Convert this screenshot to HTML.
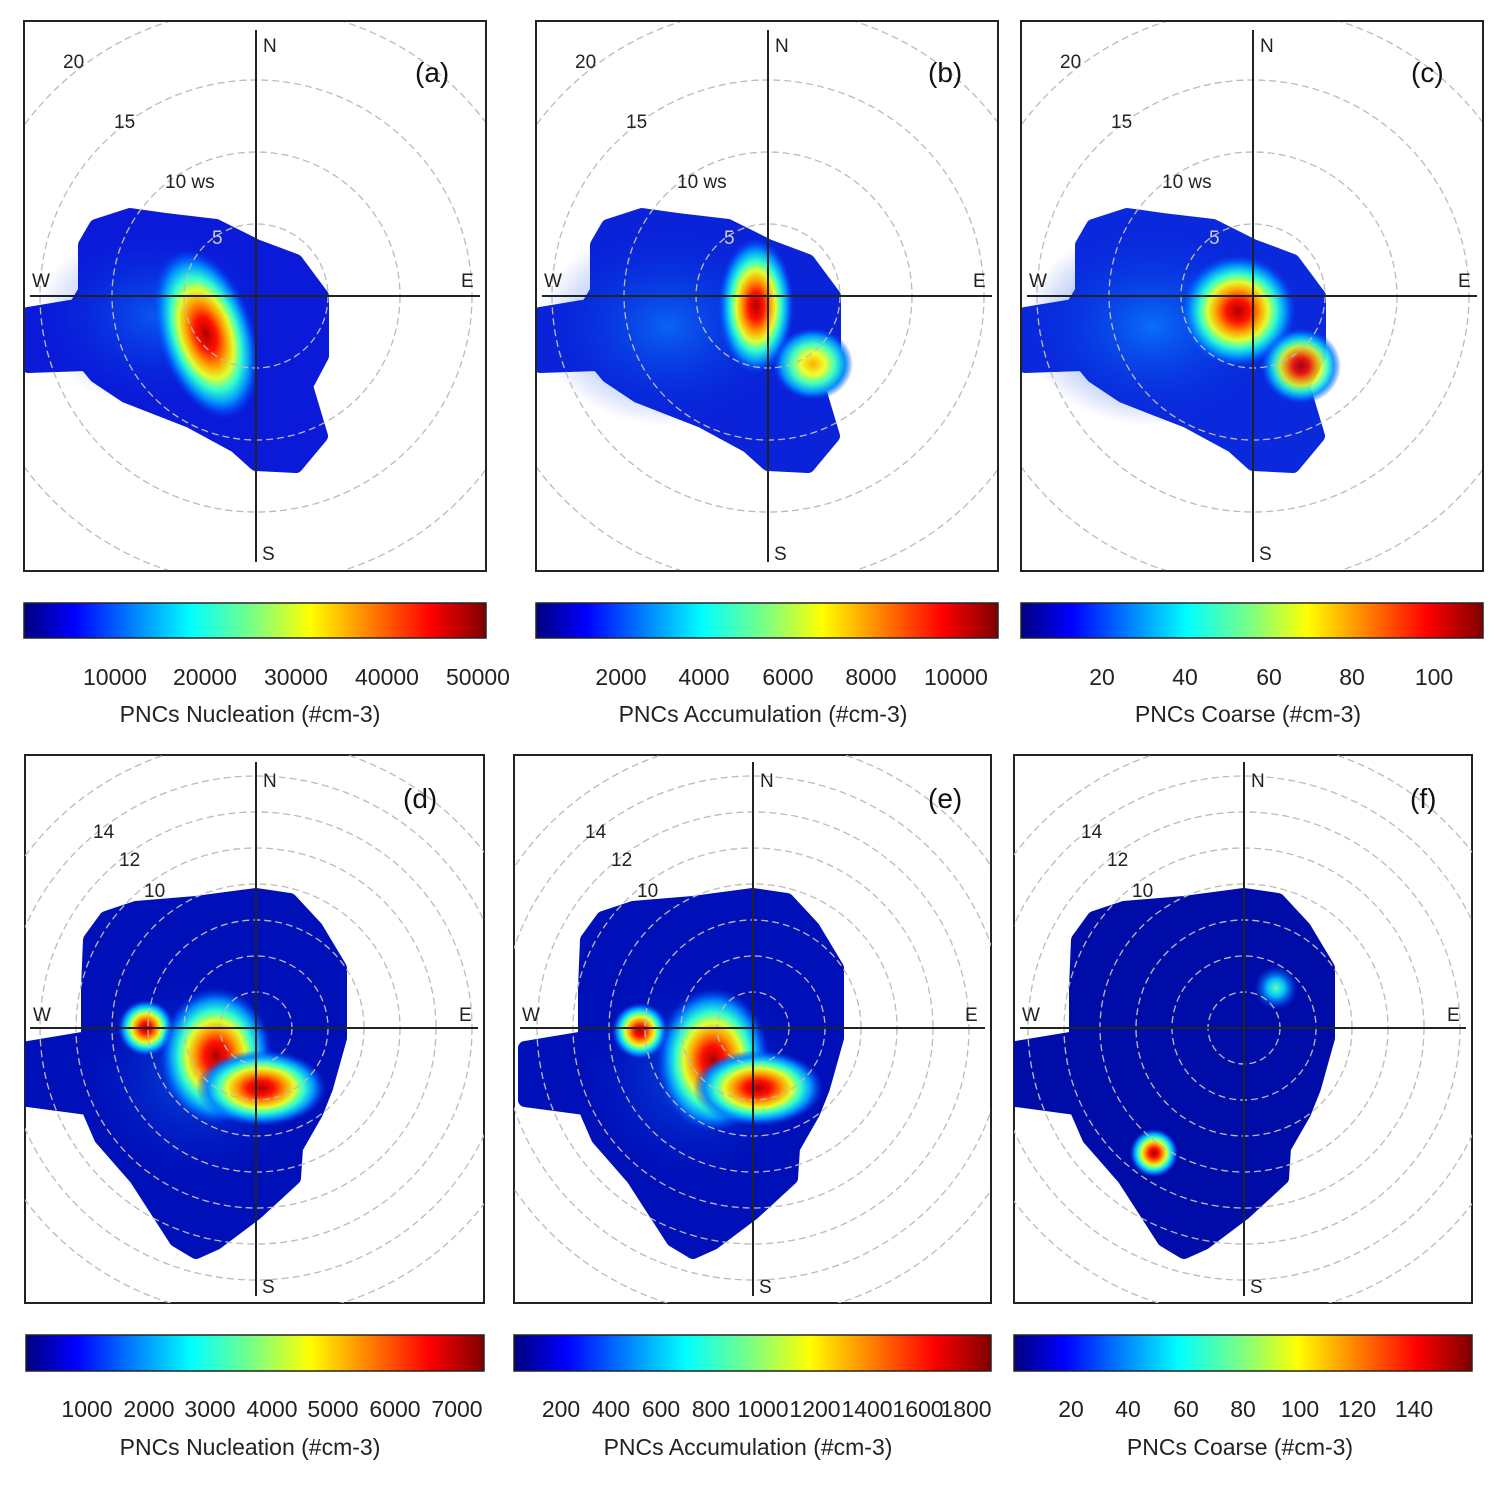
<!DOCTYPE html>
<html><head><meta charset="utf-8"><style>
body{margin:0;background:#fff}
svg text{font-family:"Liberation Sans",Arial,sans-serif}
</style></head><body>
<svg width="1501" height="1493" viewBox="0 0 1501 1493" xmlns="http://www.w3.org/2000/svg">
<defs>
<linearGradient id="jet" x1="0" x2="1" y1="0" y2="0">
<stop offset="0" stop-color="#00007f"/><stop offset="0.11" stop-color="#0000ff"/>
<stop offset="0.36" stop-color="#00ffff"/><stop offset="0.5" stop-color="#7fff7f"/>
<stop offset="0.62" stop-color="#ffff00"/><stop offset="0.88" stop-color="#ff0000"/>
<stop offset="1" stop-color="#7f0000"/></linearGradient>
<radialGradient id="hot"><stop offset="0" stop-color="#b00000"/><stop offset="0.2" stop-color="#ff1000"/>
<stop offset="0.38" stop-color="#ffa000"/><stop offset="0.52" stop-color="#e0ff30"/><stop offset="0.66" stop-color="#30ffd0"/>
<stop offset="0.82" stop-color="#0090ff"/><stop offset="1" stop-color="#0040ff" stop-opacity="0"/></radialGradient>
<radialGradient id="warm"><stop offset="0" stop-color="#ffb000"/><stop offset="0.3" stop-color="#f0ff30"/>
<stop offset="0.55" stop-color="#40ffc0"/><stop offset="0.8" stop-color="#0090ff"/><stop offset="1" stop-color="#0040ff" stop-opacity="0"/></radialGradient>
<radialGradient id="cool"><stop offset="0" stop-color="#60ffb0"/><stop offset="0.4" stop-color="#00c0ff"/><stop offset="1" stop-color="#0040ff" stop-opacity="0"/></radialGradient>
<radialGradient id="haze"><stop offset="0" stop-color="#0a80ff"/><stop offset="1" stop-color="#0030e0" stop-opacity="0"/></radialGradient>
<polygon id="bt" points="-171,-51 -160,-70 -126,-81 -90,-76 -40,-70 0,-50 40,-35 66,0 66,60 50,90 65,140 40,170 0,168 -20,150 -66,125 -130,100 -160,80 -170,68 -228,70 -228,18 -180,10 -171,-5" stroke-linejoin="round" stroke-width="14"/>
<polygon id="bb" points="-166,-88 -150,-110 -120,-120 -60,-125 0,-133 34,-128 60,-100 84,-60 84,10 70,60 60,85 40,120 38,150 0,185 -40,215 -60,224 -80,212 -120,150 -155,110 -168,80 -228,72 -228,20 -168,10 -168,-40" stroke-linejoin="round" stroke-width="14"/>
<g id="rt" fill="none" stroke="#bbb" stroke-width="1.3" stroke-dasharray="7,4">
<circle r="72"/><circle r="144"/><circle r="216"/><circle r="288"/></g>
<g id="rb" fill="none" stroke="#bbb" stroke-width="1.3" stroke-dasharray="7,4">
<circle r="36"/><circle r="72"/><circle r="108"/><circle r="144"/><circle r="180"/><circle r="216"/><circle r="252"/><circle r="288"/></g>
</defs>

<g font-size="20">
<svg x="24" y="21" width="462" height="550" overflow="hidden"><g transform="translate(232,275)">
<use href="#bt" fill="#0a1ad8" stroke="#0a1ad8"/>
<ellipse cx="-100" cy="20" rx="120" ry="90" fill="url(#haze)" opacity="0.6"/>
<ellipse cx="-50" cy="38" rx="48" ry="88" transform="rotate(-18 -50 38)" fill="url(#hot)"/>
<use href="#rt"/></g></svg>
<svg x="536" y="21" width="462" height="550" overflow="hidden"><g transform="translate(232,275)">
<use href="#bt" fill="#0a22d8" stroke="#0a22d8"/>
<ellipse cx="-100" cy="30" rx="130" ry="100" fill="url(#haze)" opacity="0.7"/>
<ellipse cx="-12" cy="10" rx="38" ry="68" fill="url(#hot)"/>
<ellipse cx="45" cy="68" rx="40" ry="36" fill="url(#warm)"/>
<use href="#rt"/></g></svg>
<svg x="1021" y="21" width="462" height="550" overflow="hidden"><g transform="translate(232,275)">
<use href="#bt" fill="#0a28dc" stroke="#0a28dc"/>
<ellipse cx="-100" cy="30" rx="130" ry="100" fill="url(#haze)" opacity="0.8"/>
<ellipse cx="-15" cy="15" rx="58" ry="56" fill="url(#hot)"/>
<ellipse cx="48" cy="70" rx="40" ry="38" fill="url(#hot)" opacity="0.9"/>
<use href="#rt"/></g></svg>
</g>

<g fill="none" stroke="#222" stroke-width="2">
<rect x="24" y="21" width="462" height="550"/><rect x="536" y="21" width="462" height="550"/><rect x="1021" y="21" width="462" height="550"/>
<path d="M256 30V562M30 296H480M768 30V562M542 296H992M1253 30V562M1027 296H1477"/>
<rect x="25" y="755" width="459" height="548"/><rect x="514" y="755" width="477" height="548"/><rect x="1014" y="755" width="458" height="548"/>
</g>

<svg x="25" y="755" width="459" height="548" overflow="hidden"><g transform="translate(231,273)">
<use href="#bb" fill="#0010b8" stroke="#0010b8"/>
<ellipse cx="-60" cy="50" rx="110" ry="100" fill="url(#haze)" opacity="0.5"/>
<circle cx="-110" cy="0" r="28" fill="url(#hot)"/>
<ellipse cx="-40" cy="28" rx="56" ry="68" fill="url(#hot)"/>
<ellipse cx="5" cy="60" rx="65" ry="38" fill="url(#hot)"/>
<use href="#rb"/></g></svg>
<svg x="514" y="755" width="477" height="548" overflow="hidden"><g transform="translate(239,273)">
<use href="#bb" fill="#0010b8" stroke="#0010b8"/>
<ellipse cx="-60" cy="50" rx="110" ry="100" fill="url(#haze)" opacity="0.5"/>
<circle cx="-113" cy="3" r="28" fill="url(#hot)"/>
<ellipse cx="-40" cy="32" rx="56" ry="72" fill="url(#hot)"/>
<ellipse cx="5" cy="60" rx="65" ry="38" fill="url(#hot)"/>
<use href="#rb"/></g></svg>
<svg x="1014" y="755" width="458" height="548" overflow="hidden"><g transform="translate(230,273)">
<use href="#bb" fill="#000ca8" stroke="#000ca8"/>
<circle cx="-90" cy="125" r="24" fill="url(#hot)"/>
<circle cx="32" cy="-40" r="22" fill="url(#cool)"/>
<use href="#rb"/></g></svg>

<g fill="none" stroke="#222" stroke-width="2">
<path d="M256 762V1296M30 1028H478M753 762V1296M520 1028H985M1244 762V1296M1020 1028H1466"/>
</g>

<g font-size="19" fill="#222">
<text x="263" y="52">N</text><text x="262" y="560">S</text><text x="32" y="287">W</text><text x="461" y="287">E</text>
<text x="775" y="52">N</text><text x="774" y="560">S</text><text x="544" y="287">W</text><text x="973" y="287">E</text>
<text x="1260" y="52">N</text><text x="1259" y="560">S</text><text x="1029" y="287">W</text><text x="1458" y="287">E</text>
<text x="263" y="787">N</text><text x="262" y="1293">S</text><text x="33" y="1021">W</text><text x="459" y="1021">E</text>
<text x="760" y="787">N</text><text x="759" y="1293">S</text><text x="522" y="1021">W</text><text x="965" y="1021">E</text>
<text x="1251" y="787">N</text><text x="1250" y="1293">S</text><text x="1022" y="1021">W</text><text x="1447" y="1021">E</text>
<text x="63" y="68">20</text><text x="114" y="128">15</text><text x="165" y="188">10 ws</text><text x="212" y="244" fill="#ccc">5</text>
<text x="575" y="68">20</text><text x="626" y="128">15</text><text x="677" y="188">10 ws</text><text x="724" y="244" fill="#ccc">5</text>
<text x="1060" y="68">20</text><text x="1111" y="128">15</text><text x="1162" y="188">10 ws</text><text x="1209" y="244" fill="#ccc">5</text>
<text x="93" y="838">14</text><text x="119" y="866">12</text><text x="144" y="897">10</text>
<text x="585" y="838">14</text><text x="611" y="866">12</text><text x="637" y="897">10</text>
<text x="1081" y="838">14</text><text x="1107" y="866">12</text><text x="1132" y="897">10</text>
</g>
<g font-size="28" fill="#111">
<text x="415" y="82" font-family="Liberation Serif,serif">(a)</text><text x="928" y="82" font-family="Liberation Serif,serif">(b)</text><text x="1411" y="82" font-family="Liberation Serif,serif">(c)</text>
<text x="403" y="808" font-family="Liberation Serif,serif">(d)</text><text x="928" y="808" font-family="Liberation Serif,serif">(e)</text><text x="1410" y="808" font-family="Liberation Serif,serif">(f)</text>
</g>

<g stroke="#222" stroke-width="1.5" fill="url(#jet)">
<rect x="24" y="603" width="462" height="35"/><rect x="536" y="603" width="462" height="35"/><rect x="1021" y="603" width="462" height="35"/>
<rect x="26" y="1335" width="458" height="36"/><rect x="514" y="1335" width="477" height="36"/><rect x="1014" y="1335" width="458" height="36"/>
</g>
<g font-size="23" fill="#222" text-anchor="middle">
<text x="115" y="685">10000</text><text x="205" y="685">20000</text><text x="296" y="685">30000</text><text x="387" y="685">40000</text><text x="478" y="685">50000</text>
<text x="250" y="722">PNCs Nucleation (#cm-3)</text>
<text x="621" y="685">2000</text><text x="704" y="685">4000</text><text x="788" y="685">6000</text><text x="871" y="685">8000</text><text x="956" y="685">10000</text>
<text x="763" y="722">PNCs Accumulation (#cm-3)</text>
<text x="1102" y="685">20</text><text x="1185" y="685">40</text><text x="1269" y="685">60</text><text x="1352" y="685">80</text><text x="1434" y="685">100</text>
<text x="1248" y="722">PNCs Coarse (#cm-3)</text>
<text x="87" y="1417">1000</text><text x="149" y="1417">2000</text><text x="210" y="1417">3000</text><text x="272" y="1417">4000</text><text x="333" y="1417">5000</text><text x="395" y="1417">6000</text><text x="457" y="1417">7000</text>
<text x="250" y="1455">PNCs Nucleation (#cm-3)</text>
<text x="561" y="1417">200</text><text x="611" y="1417">400</text><text x="661" y="1417">600</text><text x="711" y="1417">800</text><text x="763" y="1417">1000</text><text x="815" y="1417">1200</text><text x="867" y="1417">1400</text><text x="918" y="1417">1600</text><text x="966" y="1417">1800</text>
<text x="748" y="1455">PNCs Accumulation (#cm-3)</text>
<text x="1071" y="1417">20</text><text x="1128" y="1417">40</text><text x="1186" y="1417">60</text><text x="1243" y="1417">80</text><text x="1300" y="1417">100</text><text x="1357" y="1417">120</text><text x="1414" y="1417">140</text>
<text x="1240" y="1455">PNCs Coarse (#cm-3)</text>
</g>
</svg>
</body></html>
